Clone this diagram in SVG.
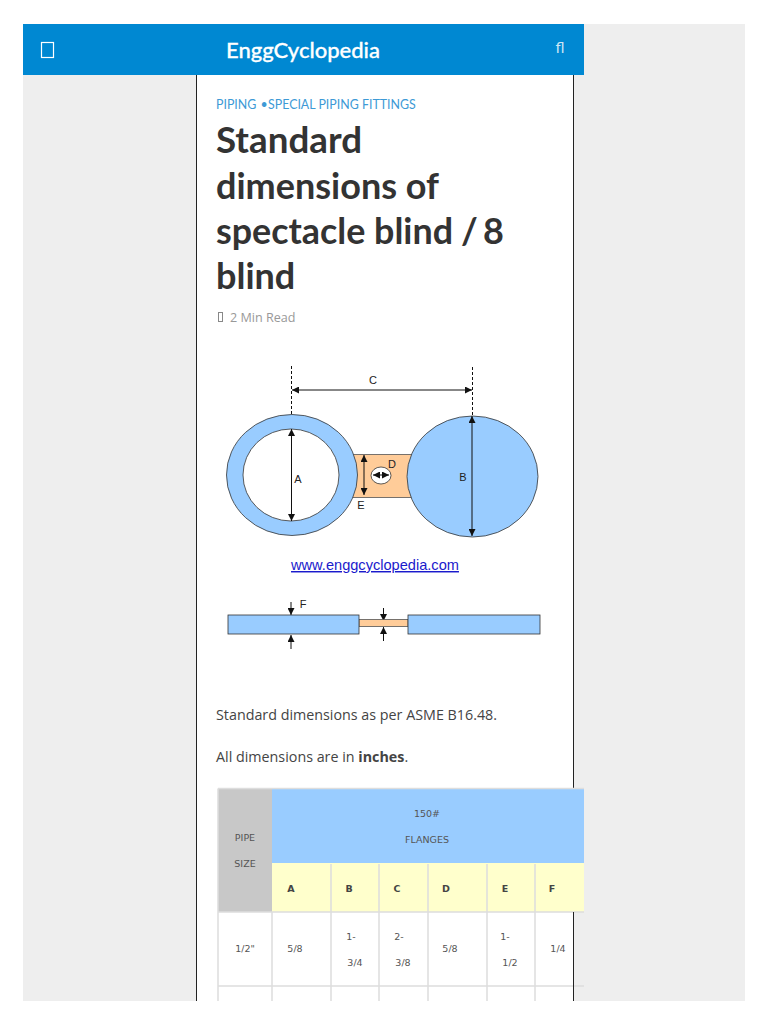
<svg xmlns="http://www.w3.org/2000/svg" width="768" height="1024" viewBox="0 0 768 1024">
<style>
.lato{font-family:Lato,"Open Sans",sans-serif}
.os{font-family:"Open Sans","Noto Sans",sans-serif}
.ar{font-family:"Liberation Sans",Arial,sans-serif}
.dv{font-family:"DejaVu Sans",Verdana,sans-serif}
.title{font-size:36px;font-weight:700;fill:#333}
.body{font-size:14.3px;fill:#444}
.crumb{font-size:12.4px;fill:#3d9ad6}
.lab{font-size:11px;fill:#222}
.tbl{font-size:9.5px;fill:#555}
.th{font-size:9.5px;font-weight:700;fill:#444}
.grid{stroke:#ddd;stroke-width:1.5;fill:none}
.dim{stroke:#111;stroke-width:1;fill:none}
.dash{stroke:#111;stroke-width:1;stroke-dasharray:3 2;fill:none}
.blue{fill:#99ccff;stroke:#333;stroke-width:.8}
.orange{fill:#ffcc99;stroke:#555;stroke-width:.8}
</style>
<defs>
<marker id="a" viewBox="0 0 10 10" refX="10" refY="5" markerWidth="7" markerHeight="7" markerUnits="userSpaceOnUse" orient="auto-start-reverse"><path d="M0 0L10 5L0 10Z" fill="#111"/></marker>
</defs>
<rect width="768" height="1024" fill="#fff"/>
<rect x="23" y="24" width="722" height="977" fill="#eee"/>
<g id="article">
<path d="M196.500 75V1001H573.500V75" fill="#fff"/>
<path d="M196.500 75V1001M573.500 75V1001" fill="none" stroke="#222" stroke-width="1"/>
<text class="lato crumb" x="216" y="108.500">PIPING</text>
<text class="lato crumb" x="260.500" y="108.500">•</text>
<text class="lato crumb" x="268" y="108.500">SPECIAL PIPING FITTINGS</text>
<text class="lato title" x="216" y="153" textLength="146" lengthAdjust="spacingAndGlyphs">Standard</text>
<text class="lato title" x="216" y="199">dimensions of</text>
<text class="lato title" x="216" y="244" textLength="237" lengthAdjust="spacingAndGlyphs">spectacle blind</text>
<text class="lato title" x="461" y="244">/</text>
<text class="lato title" x="483" y="244">8</text>
<text class="lato title" x="216" y="289">blind</text>
<rect x="218.500" y="312.500" width="4" height="9" fill="none" stroke="#888"/>
<text class="os" x="230" y="322" font-size="12.600" fill="#999">2 Min Read</text>
<text class="os body" x="216" y="720">Standard dimensions as per ASME B16.48.</text>
<text class="os body" x="216" y="762">All dimensions are in <tspan font-weight="700">inches</tspan>.</text>
</g>
<g id="header">
<rect x="23" y="24" width="561" height="51" fill="#0088d2"/>
<rect x="41.500" y="42.500" width="12" height="15" fill="none" stroke="#fff" stroke-width="1.200"/>
<text class="lato" x="303" y="58" font-size="22" font-weight="500" fill="#fff" stroke="#fff" stroke-width=".3" text-anchor="middle">EnggCyclopedia</text>
<text class="lato" x="560" y="53" font-size="15" fill="#cfe6f5" text-anchor="middle">fl</text>
</g>
<g id="front-view">
<rect class="orange" x="350" y="454.500" width="65" height="43"/>
<ellipse class="blue" cx="292" cy="475" rx="65.500" ry="60.500"/>
<ellipse cx="291" cy="475" rx="48" ry="46" fill="#fff" stroke="#333" stroke-width=".8"/>
<ellipse class="blue" cx="472.500" cy="476.500" rx="65.500" ry="60.500"/>
<ellipse cx="381" cy="475.500" rx="10" ry="8.500" fill="#fff" stroke="#333" stroke-width=".8"/>
</g>
<g id="connectors">
<path class="dash" d="M291.500 366V415M472.500 367V416"/>
<path class="dim" d="M292 390H472" stroke="#444" stroke-width="1.200" marker-start="url(#a)" marker-end="url(#a)"/>
<path class="dim" d="M291.500 429V521" marker-start="url(#a)" marker-end="url(#a)"/>
<path class="dim" d="M472 416V536" stroke-width="1.300" marker-start="url(#a)" marker-end="url(#a)"/>
<path class="dim" d="M364 455V495" stroke-width="1.300" marker-start="url(#a)" marker-end="url(#a)"/>
<path class="dim" d="M373 475H389" marker-start="url(#a)" marker-end="url(#a)"/>
<path class="dim" d="M291 602V615" marker-end="url(#a)"/>
<path class="dim" d="M291 649V635" marker-end="url(#a)"/>
<path class="dim" d="M383.500 608V621" marker-end="url(#a)"/>
<path class="dim" d="M383.500 641V627" marker-end="url(#a)"/>
</g>
<g id="front-labels">
<text class="ar lab" x="373" y="384" text-anchor="middle">C</text>
<text class="ar lab" x="298" y="483" text-anchor="middle">A</text>
<text class="ar lab" x="463" y="481" text-anchor="middle">B</text>
<text class="ar lab" x="392" y="468" text-anchor="middle">D</text>
<text class="ar lab" x="361" y="509" text-anchor="middle">E</text>
<text class="ar lab" x="303" y="608" text-anchor="middle">F</text>
<text class="ar" x="375" y="570" font-size="14.600" fill="#1a1acc" text-anchor="middle" text-decoration="underline">www.enggcyclopedia.com</text>
</g>
<g id="side-view">
<rect class="orange" x="359" y="619.500" width="49" height="7"/>
<rect class="blue" x="228" y="615" width="131" height="19"/>
<rect class="blue" x="408" y="615" width="132" height="19"/>
</g>
<g id="table">
<rect x="218" y="789" width="54" height="123" fill="#c8c8c8"/>
<rect x="272" y="789" width="312" height="74" fill="#99ccff"/>
<rect x="272" y="863" width="312" height="49" fill="#ffffcc"/>
<rect x="218" y="912" width="355" height="89" fill="#fff"/>
<path class="grid" d="M218 788.500V1001M272 912V1001M331 864V1001M379 864V1001M428 864V1001M487 864V1001M535 864V1001M218 788.500H584M218 912H584M218 986H584"/>
<text class="dv tbl" x="245" y="841" text-anchor="middle">PIPE</text>
<text class="dv tbl" x="245" y="867" text-anchor="middle">SIZE</text>
<text class="dv tbl" x="427" y="817" text-anchor="middle">150#</text>
<text class="dv tbl" x="427" y="843" text-anchor="middle">FLANGES</text>
<text class="dv th" x="291" y="892" text-anchor="middle">A</text>
<text class="dv th" x="349" y="892" text-anchor="middle">B</text>
<text class="dv th" x="397" y="892" text-anchor="middle">C</text>
<text class="dv th" x="446" y="892" text-anchor="middle">D</text>
<text class="dv th" x="505" y="892" text-anchor="middle">E</text>
<text class="dv th" x="552" y="892" text-anchor="middle">F</text>
<text class="dv tbl" x="245" y="952" text-anchor="middle">1/2"</text>
<text class="dv tbl" x="295" y="952" text-anchor="middle">5/8</text>
<text class="dv tbl" x="351" y="940" text-anchor="middle">1-</text>
<text class="dv tbl" x="355" y="966" text-anchor="middle">3/4</text>
<text class="dv tbl" x="399" y="940" text-anchor="middle">2-</text>
<text class="dv tbl" x="403" y="966" text-anchor="middle">3/8</text>
<text class="dv tbl" x="450" y="952" text-anchor="middle">5/8</text>
<text class="dv tbl" x="505" y="940" text-anchor="middle">1-</text>
<text class="dv tbl" x="510" y="966" text-anchor="middle">1/2</text>
<text class="dv tbl" x="558" y="952" text-anchor="middle">1/4</text>
<path d="M573.500 912V1001" stroke="#222" stroke-width="1"/>
</g>
</svg>
